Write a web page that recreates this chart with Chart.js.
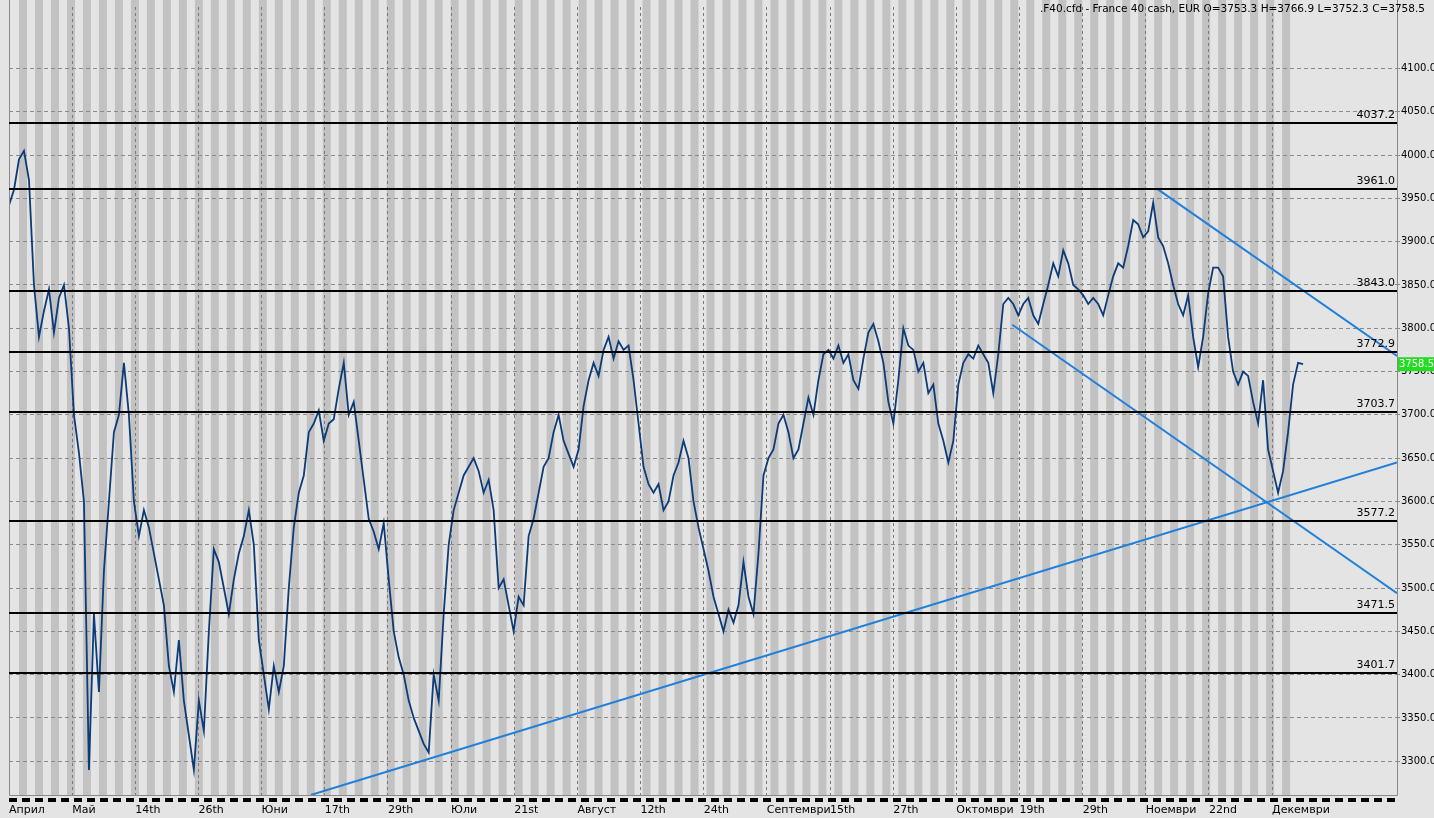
<!DOCTYPE html>
<html>
<head>
<meta charset="utf-8">
<script src="https://cdn.jsdelivr.net/npm/chart.js@4.4.0/dist/chart.umd.min.js"></script>
<style>
  html, body { margin: 0; padding: 0; background: #e4e4e4; }
  #wrap { width: 1434px; height: 818px; }
</style>
</head>
<body>
<div id="wrap"><canvas id="fchi"></canvas></div>
<script>
// France 40 close prices, one sample per ~0.6 trading day
const closes = [
  3942,3960,3995,4005,3971,3850,3790,3820,3845,3795,3835,3850,3800,3700,3656,3600,3290,3470,3380,3520,
  3600,3680,3700,3760,3700,3600,3560,3590,3570,3540,3510,3480,3410,3380,3440,3370,3330,3290,3370,3335,
  3450,3545,3530,3500,3470,3510,3540,3560,3590,3550,3440,3400,3360,3410,3380,3410,3500,3570,3610,3630,
  3680,3690,3705,3670,3690,3695,3730,3760,3700,3715,3670,3625,3580,3565,3545,3575,3510,3450,3420,3400,
  3370,3350,3335,3320,3310,3400,3370,3470,3550,3590,3610,3630,3640,3650,3635,3610,3625,3590,3500,3510,
  3480,3450,3490,3480,3560,3580,3610,3640,3650,3680,3700,3670,3655,3640,3660,3710,3740,3760,3745,3775,
  3790,3765,3785,3775,3780,3740,3690,3640,3620,3610,3620,3590,3600,3630,3645,3670,3650,3600,3570,3545,
  3520,3490,3470,3450,3475,3460,3480,3530,3490,3470,3540,3630,3650,3660,3690,3700,3680,3650,3660,3690,
  3720,3700,3740,3770,3775,3765,3780,3760,3770,3740,3730,3765,3795,3805,3785,3760,3715,3690,3740,3800,
  3780,3775,3750,3760,3725,3735,3690,3670,3645,3670,3735,3760,3770,3765,3780,3770,3760,3725,3770,3828,
  3835,3828,3815,3828,3835,3815,3805,3828,3850,3875,3860,3890,3875,3850,3845,3838,3828,3835,3828,3815,
  3838,3860,3875,3870,3895,3925,3920,3905,3912,3945,3905,3895,3875,3850,3828,3815,3838,3790,3755,3790,
  3840,3870,3870,3860,3790,3750,3735,3750,3745,3715,3690,3740,3660,3635,3610,3635,3680,3735,3760,3758.5
];
const levels = [4037.2, 3961.0, 3843.0, 3772.9, 3703.7, 3577.2, 3471.5, 3401.7];
const monthLabels = ['Април','Май','14th','26th','Юни','17th','29th','Юли','21st','Август','12th',
  '24th','Септември','15th','27th','Октомври','19th','29th','Ноември','22nd','Декември'];
const trendUp = [{x: 60.4, y: 3261}, {x: 277.8, y: 3645}];
const trendDown1 = [{x: 229.8, y: 3961}, {x: 277.8, y: 3768}];
const trendDown2 = [{x: 200.8, y: 3804}, {x: 277.8, y: 3494}];
const lastPrice = 3758.5;
const title = '.F40.cfd - France 40 cash, EUR O=3753.3 H=3766.9 L=3752.3 C=3758.5';

const X_MAX = 277.8, STRIPE = 1.6, STRIPE_END = 257.8, LABEL_STEP = 12.64;
const FONT = '"DejaVu Sans", sans-serif';

const backdrop = {
  id: 'backdrop',
  beforeDraw(chart) {
    const { ctx, chartArea: a, scales: { x } } = chart;
    ctx.save();
    ctx.fillStyle = '#e4e4e4';
    ctx.fillRect(0, 0, chart.width, chart.height);
    ctx.fillStyle = '#c2c2c2';
    for (let s = 2; s < STRIPE_END; s += STRIPE * 2) {
      const x0 = x.getPixelForValue(s), x1 = x.getPixelForValue(Math.min(s + STRIPE, STRIPE_END));
      ctx.fillRect(x0, 0, x1 - x0, a.bottom);
    }
    ctx.restore();
  },
  afterDraw(chart) {
    const { ctx, chartArea: a, scales: { y } } = chart;
    ctx.save();
    ctx.strokeStyle = '#8a8a8a'; ctx.lineWidth = 1;
    ctx.beginPath();
    ctx.moveTo(a.left + 0.5, 0); ctx.lineTo(a.left + 0.5, a.bottom + 0.5);
    ctx.lineTo(a.right + 0.5, a.bottom + 0.5); ctx.lineTo(a.right + 0.5, 0);
    ctx.stroke();
    // dashed date bar
    ctx.strokeStyle = '#000'; ctx.lineWidth = 4; ctx.setLineDash([8, 5]);
    ctx.beginPath(); ctx.moveTo(a.left, a.bottom + 5); ctx.lineTo(a.right, a.bottom + 5); ctx.stroke();
    ctx.setLineDash([]);
    // level lines with labels
    ctx.font = '11px ' + FONT; ctx.textAlign = 'right'; ctx.textBaseline = 'bottom';
    levels.forEach(v => {
      const py = Math.round(y.getPixelForValue(v));
      ctx.strokeStyle = '#000'; ctx.lineWidth = 2;
      ctx.beginPath(); ctx.moveTo(a.left, py); ctx.lineTo(a.right, py); ctx.stroke();
      ctx.fillStyle = '#000';
      ctx.fillText(v.toFixed(1), a.right - 2, py - 2);
    });
    // price tag
    const py = y.getPixelForValue(lastPrice);
    ctx.fillStyle = '#22dd22';
    ctx.fillRect(a.right + 1, py - 7, 36, 14);
    ctx.fillStyle = '#fff'; ctx.textAlign = 'left'; ctx.textBaseline = 'middle'; ctx.font = '10px ' + FONT;
    ctx.fillText(lastPrice.toFixed(1), a.right + 2, py);
    // title
    ctx.fillStyle = '#000'; ctx.font = '10.5px ' + FONT; ctx.textAlign = 'right'; ctx.textBaseline = 'middle';
    ctx.fillText(title, 1425, 9);
    ctx.restore();
  }
};

const trendStyle = { borderColor: '#1f80dc', borderWidth: 2, pointRadius: 0, fill: false };

new Chart('fchi', {
  type: 'line',
  data: {
    datasets: [
      { data: closes.map((v, i) => ({ x: i, y: v })), borderColor: '#0b3b78', borderWidth: 1.8,
        pointRadius: 0, tension: 0 },
      { data: trendUp, ...trendStyle },
      { data: trendDown1, ...trendStyle },
      { data: trendDown2, ...trendStyle }
    ]
  },
  options: {
    responsive: true,
    maintainAspectRatio: false,
    animation: false,
    layout: { padding: { left: 8, top: -6, right: 0, bottom: 0 } },
    plugins: { legend: { display: false }, tooltip: { enabled: false } },
    scales: {
      x: {
        type: 'linear', min: 0, max: X_MAX,
        afterBuildTicks(s) { s.ticks = monthLabels.map((_, k) => ({ value: k * LABEL_STEP })); },
        afterFit(s) { s.height = 23; },
        grid: { color: '#7a7a7a', tickLength: 0, drawTicks: false },
        border: { display: false, dash: [3, 3] },
        ticks: { align: 'start', maxRotation: 0, autoSkip: false, padding: 9, color: '#000',
          font: { family: FONT, size: 11 },
          callback(v, i) { return monthLabels[i]; } }
      },
      y: {
        position: 'right', min: 3261, max: 4171,
        afterBuildTicks(s) {
          const t = [];
          for (let v = 3300; v <= 4100; v += 50) t.push({ value: v });
          s.ticks = t;
        },
        afterFit(s) { s.width = 37; },
        grid: { color: '#8a8a8a', drawTicks: true, tickLength: 3 },
        border: { display: false, dash: [4, 3] },
        ticks: { color: '#000', padding: 1, font: { family: FONT, size: 10 },
          callback: v => v.toFixed(1) }
      }
    }
  },
  plugins: [backdrop]
});
</script>
</body>
</html>
